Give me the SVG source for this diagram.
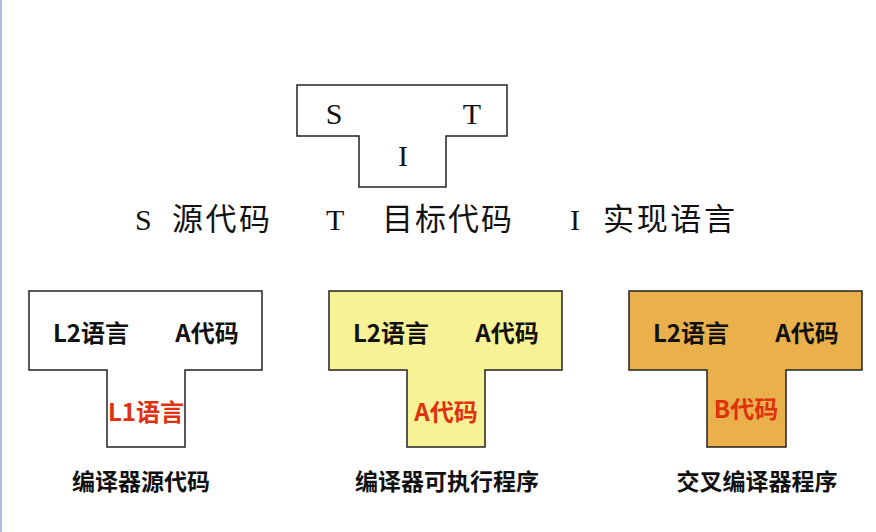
<svg xmlns="http://www.w3.org/2000/svg" width="876" height="532" viewBox="0 0 876 532">
<style>
.sh{stroke:#222;stroke-width:1.5}
.serif{font-family:"Liberation Serif",serif;font-size:30px;fill:#111}
.cjk{font-family:"Noto Sans CJK SC",sans-serif;font-size:31px;fill:#111}
.b{font-family:"Noto Sans CJK SC","Liberation Sans",sans-serif;font-weight:bold;font-size:24px;fill:#111;text-anchor:middle}
.r{fill:#e0300e}
.cap{font-family:"Noto Sans CJK SC","Liberation Sans",sans-serif;font-weight:bold;font-size:23px;fill:#111;text-anchor:middle}
</style>
<rect width="876" height="532" fill="#fff"/>
<line x1="1" y1="0" x2="1" y2="532" stroke="#b8b8e8" stroke-width="2"/>
<g id="legend-t">
<path class="sh" fill="#fff" d="M297,85H507V136H446V187H359V136H297Z"/>
<text class="serif" x="334" y="124" text-anchor="middle">S</text>
<text class="serif" x="472" y="124" text-anchor="middle">T</text>
<text class="serif" x="403" y="166" text-anchor="middle">I</text>
</g>
<g id="legend-text">
<text class="serif" x="135" y="230">S</text>
<text class="cjk" x="172" y="230" textLength="98">源代码</text>
<text class="serif" x="326" y="230">T</text>
<text class="cjk" x="382" y="230" textLength="130">目标代码</text>
<text class="serif" x="570" y="230">I</text>
<text class="cjk" x="603" y="230" textLength="132">实现语言</text>
</g>
<g id="src">
<path class="sh" fill="#fff" d="M29,291H262V370H185V447H107V370H29Z"/>
<text class="b" x="91" y="342">L2语言</text>
<text class="b" x="207" y="342">A代码</text>
<text class="b r" x="146" y="421">L1语言</text>
<text class="cap" x="141" y="490">编译器源代码</text>
</g>
<g id="exe">
<path class="sh" fill="#f7f296" d="M329,291H562V370H485V447H407V370H329Z"/>
<text class="b" x="391" y="342">L2语言</text>
<text class="b" x="507" y="342">A代码</text>
<text class="b r" x="446" y="421">A代码</text>
<text class="cap" x="447" y="490">编译器可执行程序</text>
</g>
<g id="cross">
<path class="sh" fill="#e9b04c" d="M629,291H862V370H786V447H707V370H629Z"/>
<text class="b" x="691" y="342">L2语言</text>
<text class="b" x="807" y="342">A代码</text>
<text class="b r" x="746" y="418">B代码</text>
<text class="cap" x="757" y="490">交叉编译器程序</text>
</g>
<g id="connectors"/>
</svg>
